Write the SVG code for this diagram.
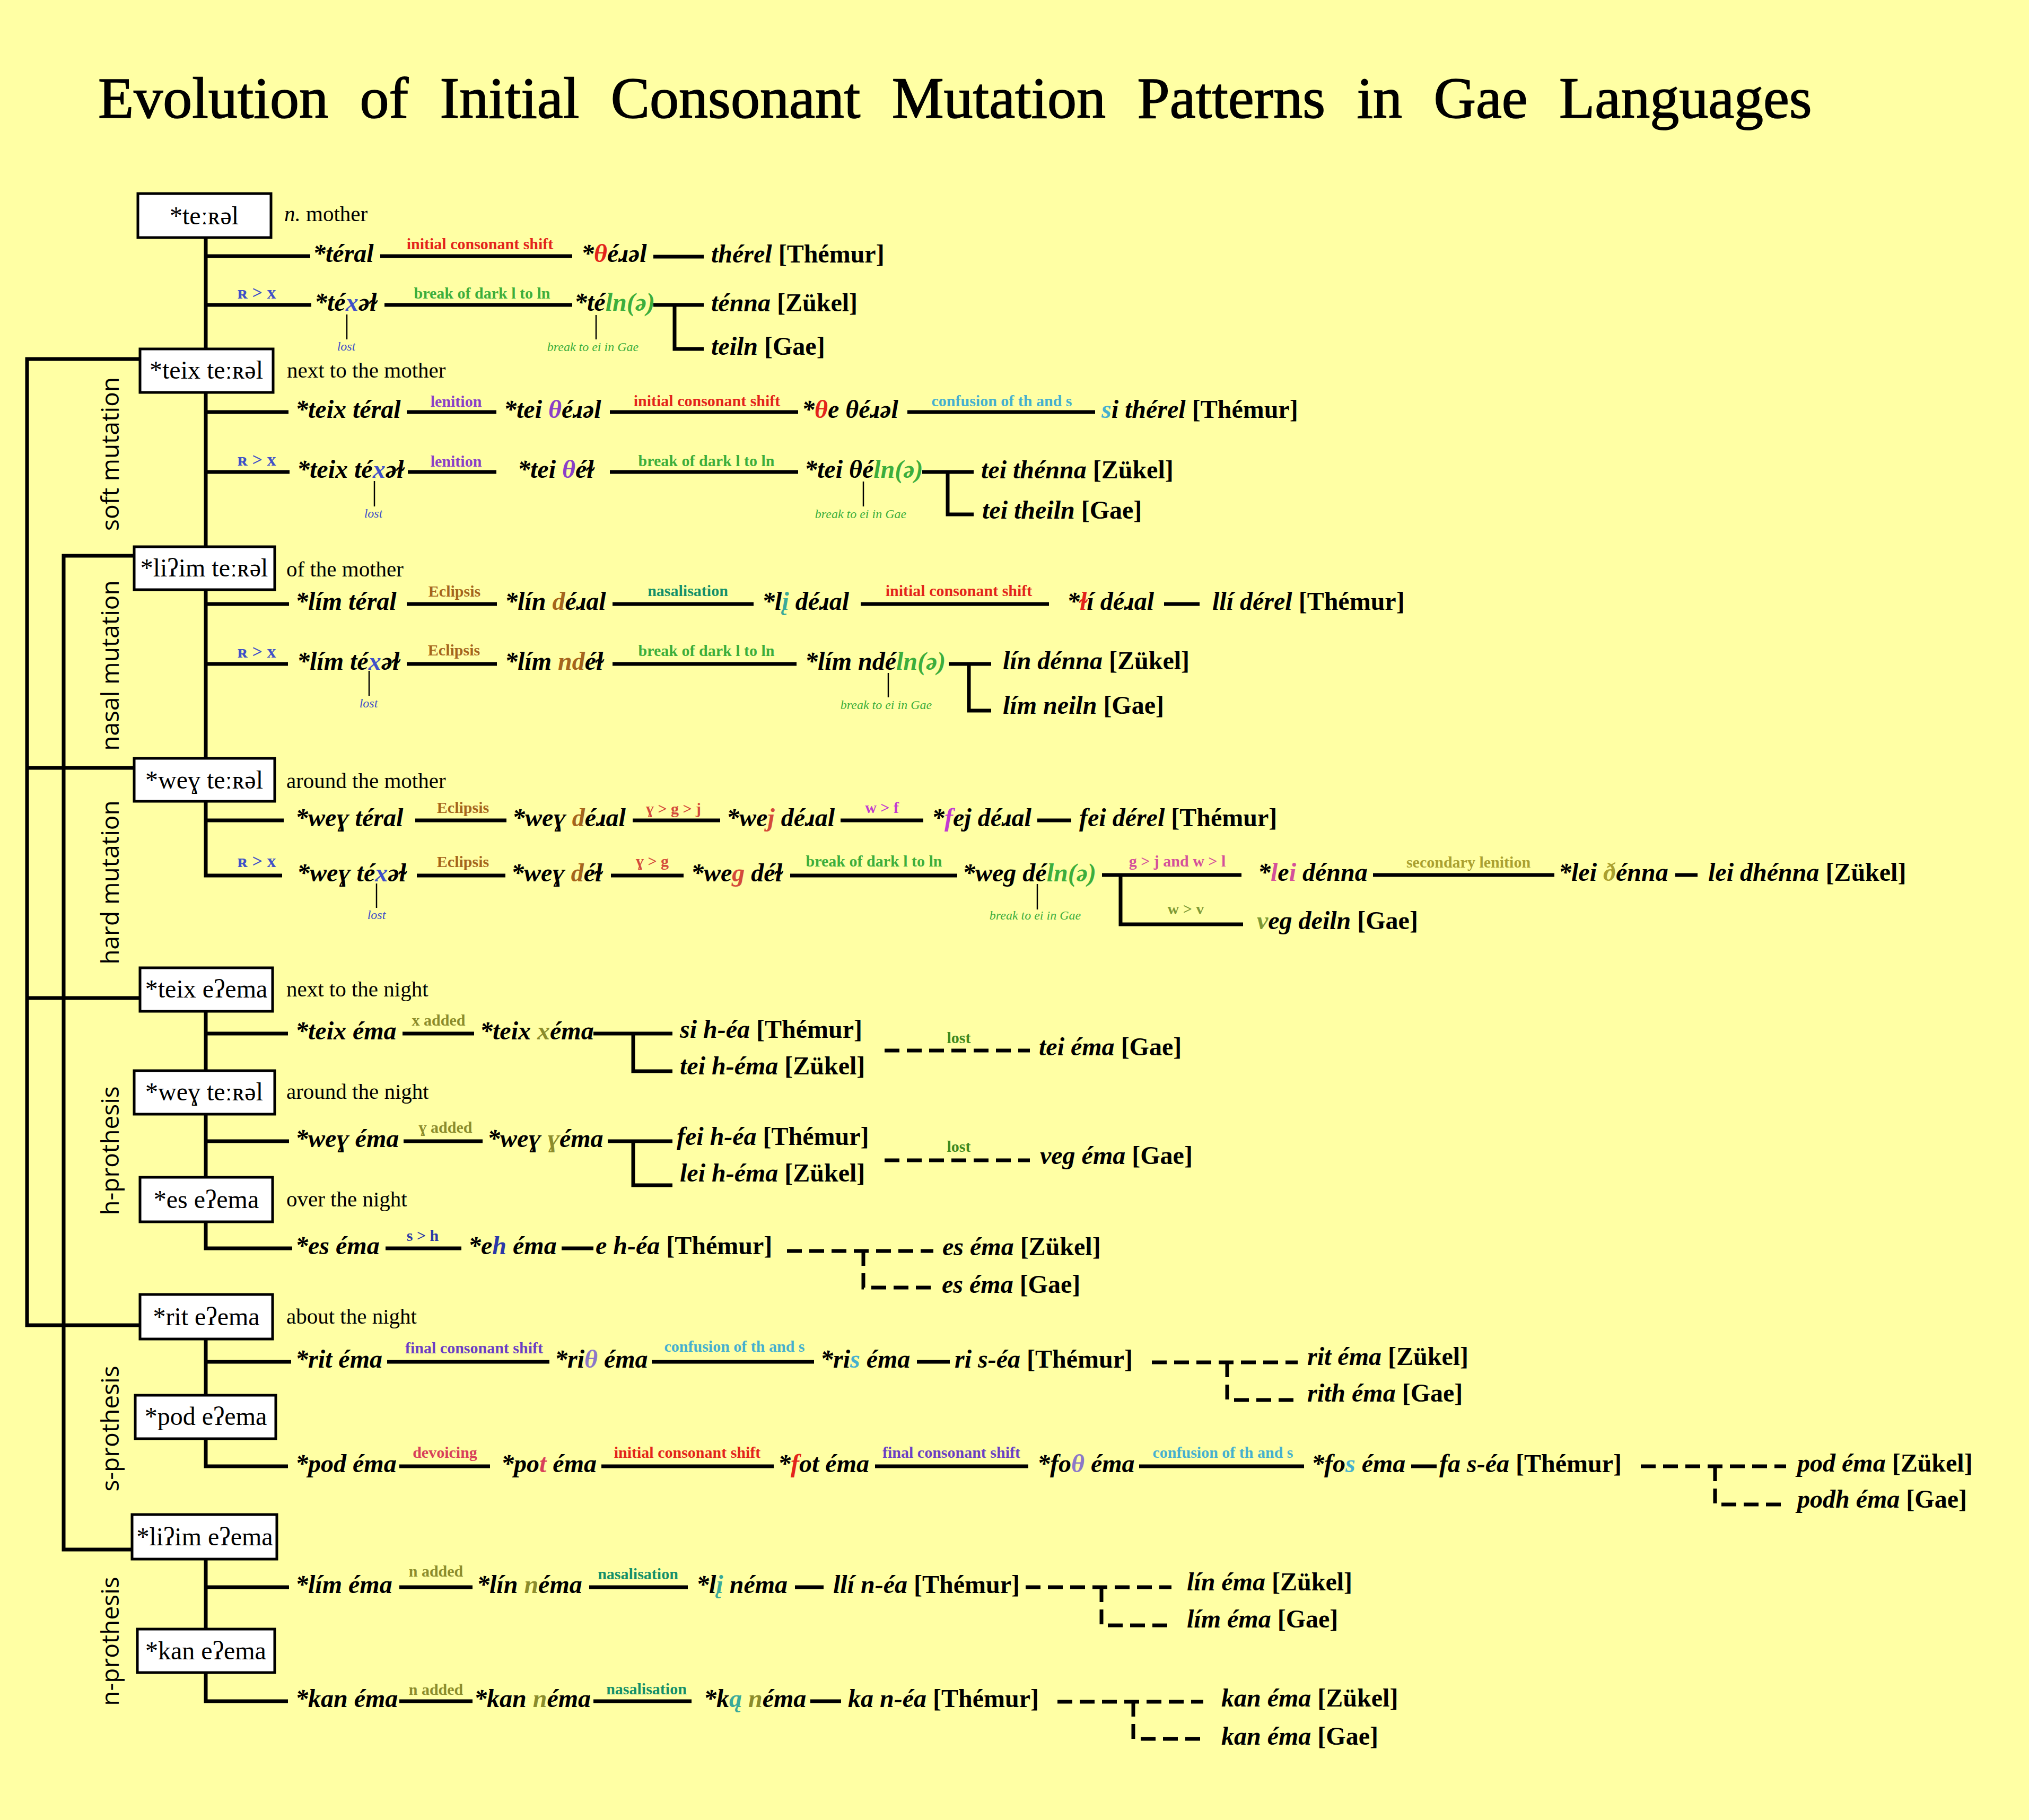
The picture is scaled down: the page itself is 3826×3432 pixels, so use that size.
<svg xmlns="http://www.w3.org/2000/svg" width="3826" height="3432" viewBox="0 0 3826 3432">
<style>
.w{font-family:"Liberation Serif","Times New Roman",serif;font-weight:bold;font-style:italic;font-size:48px;fill:#000}
.g{font-style:normal}
.bx{font-family:"Liberation Serif","DejaVu Serif",serif;font-size:48px;text-anchor:middle;fill:#000}
.an{font-family:"Liberation Serif",serif;font-size:41px;fill:#000}
.lb{font-family:"Liberation Serif",serif;font-weight:bold;font-size:30px;text-anchor:middle}
.rx{font-size:34px}
.sm{font-family:"Liberation Serif",serif;font-style:italic;font-size:24px;text-anchor:middle}
.cat{font-family:"Open Sans",sans-serif;font-size:46px;text-anchor:middle;fill:#000}
.c{fill:none;stroke:#000;stroke-width:7}
.d{fill:none;stroke:#000;stroke-width:7;stroke-dasharray:28 14}
.t{fill:none;stroke:#000;stroke-width:2.5}
.box{fill:#fff;stroke:#000;stroke-width:5}
.cr{fill:#e3241b}.cg{fill:#3cae3c}.cb{fill:#4050c8}.cp{fill:#8a3fc8}.cc{fill:#45b0cf}
.cbr{fill:#a5651c}.ct{fill:#14906a}.ci{fill:#3aaa9a}.co{fill:#8c8c2c}.cy{fill:#d44a3a}
.cm{fill:#c23bd0}.ck{fill:#d4509a}.cv{fill:#7f9a35}.cgd{fill:#aaa030}.cl{fill:#3f8a1f}
.cdb{fill:#2a38a8}.cf{fill:#6b3fc4}.cla{fill:#8c78c8}.cd{fill:#d8405a}
</style>
<rect x="0" y="0" width="3826" height="3432" fill="#ffffa4"/>
<text x="185" y="222" font-family="Liberation Serif, serif" font-size="110" word-spacing="32" fill="#000" stroke="#000" stroke-width="1.6">Evolution of Initial Consonant Mutation Patterns in Gae Languages</text>

<g id="categories">
<text class="cat" transform="translate(224,856) rotate(-90)">soft mutation</text>
<text class="cat" transform="translate(224,1255) rotate(-90)">nasal mutation</text>
<text class="cat" transform="translate(224,1664) rotate(-90)">hard mutation</text>
<text class="cat" transform="translate(224,2170) rotate(-90)">h-prothesis</text>
<text class="cat" transform="translate(224,2694) rotate(-90)">s-prothesis</text>
<text class="cat" transform="translate(224,3095) rotate(-90)">n-prothesis</text>
</g>

<g id="connectors">
<path class="c" d="M264,677 H51 V2499 H264 M51,1448 H253 M51,1882 H264"/>
<path class="c" d="M253,1048 H120 V2922 H249"/>
<path class="c" d="M388,448 V658 M388,483 H585 M388,575 H587"/>
<path class="c" d="M388,740 V1031 M388,777 H544 M388,890 H546"/>
<path class="c" d="M388,1112 V1430 M388,1139 H545 M388,1252 H543"/>
<path class="c" d="M388,1511 V1651 H532 M388,1547 H535"/>
<path class="c" d="M388,1907 V2019 M388,1949 H543"/>
<path class="c" d="M388,2101 V2220 M388,2152 H545"/>
<path class="c" d="M388,2304 V2354 H551"/>
<path class="c" d="M388,2525 V2631 M388,2568 H549"/>
<path class="c" d="M388,2713 V2765 H543"/>
<path class="c" d="M388,2940 V3072 M388,2993 H545"/>
<path class="c" d="M388,3154 V3208 H543"/>
<path class="c" d="M717,483 H1079 M1232,484 H1327"/>
<path class="c" d="M725,575 H1079 M1232,575 H1327 M1272,575 V658 H1327"/>
<path class="t" d="M654,593 V640 M1124,594 V640"/>
<path class="c" d="M767,777 H936 M1150,777 H1505 M1711,777 H2065"/>
<path class="c" d="M769,890 H936 M1150,890 H1505 M1739,890 H1836 M1787,890 V970 H1836"/>
<path class="t" d="M706,907 V955 M1628,908 V955"/>
<path class="c" d="M767,1139 H937 M1155,1139 H1421 M1623,1139 H1978 M2195,1139 H2262"/>
<path class="c" d="M767,1252 H937 M1155,1252 H1502 M1789,1252 H1869 M1827,1252 V1340 H1869"/>
<path class="t" d="M696,1265 V1312 M1675,1269 V1315"/>
<path class="c" d="M783,1547 H955 M1193,1547 H1358 M1585,1547 H1741 M1956,1547 H2020"/>
<path class="c" d="M786,1651 H953 M1152,1651 H1289 M1490,1651 H1805 M2078,1650 H2341 M2113,1650 V1743 H2344 M2589,1650 H2931 M3159,1650 H3201"/>
<path class="t" d="M710,1666 V1712 M1956,1667 V1715"/>
<path class="c" d="M759,1949 H894 M1119,1949 H1268 M1194,1949 V2020 H1268"/>
<path class="d" d="M1668,1981 H1942"/>
<path class="c" d="M761,2152 H910 M1146,2152 H1268 M1194,2152 V2235 H1268"/>
<path class="d" d="M1668,2188 H1942"/>
<path class="c" d="M727,2354 H870 M1059,2354 H1119"/>
<path class="d" d="M1484,2359 H1760 M1628,2359 V2428 H1760"/>
<path class="c" d="M730,2568 H1036 M1229,2568 H1535 M1729,2568 H1791"/>
<path class="d" d="M2172,2569 H2447 M2314,2569 V2640 H2447"/>
<path class="c" d="M753,2765 H924 M1134,2765 H1459 M1650,2765 H1939 M2148,2765 H2459 M2661,2765 H2709"/>
<path class="d" d="M3094,2765 H3368 M3234,2765 V2837 H3368"/>
<path class="c" d="M753,2993 H891 M1111,2993 H1297 M1499,2993 H1553"/>
<path class="d" d="M1934,2993 H2209 M2077,2993 V3065 H2209"/>
<path class="c" d="M753,3208 H891 M1119,3208 H1304 M1528,3208 H1586"/>
<path class="d" d="M1994,3209 H2269 M2137,3209 V3279 H2269"/>
</g>

<g id="labels">
<text class="lb cr" x="905" y="470">initial consonant shift</text>
<text class="lb rx cb" x="484" y="563">ʀ &gt; x</text>
<text class="lb cg" x="909" y="563">break of dark l to ln</text>
<text class="sm cb" x="653" y="661">lost</text>
<text class="sm cg" x="1118" y="662">break to ei in Gae</text>
<text class="lb cp" x="860" y="767">lenition</text>
<text class="lb cr" x="1333" y="766">initial consonant shift</text>
<text class="lb cc" x="1889" y="766">confusion of th and s</text>
<text class="lb rx cb" x="484" y="878">ʀ &gt; x</text>
<text class="lb cp" x="860" y="880">lenition</text>
<text class="lb cg" x="1332" y="879">break of dark l to ln</text>
<text class="sm cb" x="704" y="976">lost</text>
<text class="sm cg" x="1623" y="977">break to ei in Gae</text>
<text class="lb cbr" x="857" y="1125">Eclipsis</text>
<text class="lb ct" x="1297" y="1124">nasalisation</text>
<text class="lb cr" x="1808" y="1124">initial consonant shift</text>
<text class="lb rx cb" x="484" y="1240">ʀ &gt; x</text>
<text class="lb cbr" x="856" y="1236">Eclipsis</text>
<text class="lb cg" x="1332" y="1237">break of dark l to ln</text>
<text class="sm cb" x="695" y="1334">lost</text>
<text class="sm cg" x="1671" y="1337">break to ei in Gae</text>
<text class="lb cbr" x="873" y="1533">Eclipsis</text>
<text class="lb cy" x="1270" y="1535">ɣ &gt; g &gt; j</text>
<text class="lb cm" x="1663" y="1533">w &gt; f</text>
<text class="lb rx cb" x="484" y="1635">ʀ &gt; x</text>
<text class="lb cbr" x="873" y="1635">Eclipsis</text>
<text class="lb cy" x="1230" y="1634">ɣ &gt; g</text>
<text class="lb cg" x="1648" y="1634">break of dark l to ln</text>
<text class="sm cb" x="710" y="1733">lost</text>
<text class="sm cg" x="1952" y="1734">break to ei in Gae</text>
<text class="lb ck" x="2220" y="1634">g &gt; j and w &gt; l</text>
<text class="lb cv" x="2236" y="1724">w &gt; v</text>
<text class="lb cgd" x="2769" y="1636">secondary lenition</text>
<text class="lb co" x="827" y="1934">x added</text>
<text class="lb cl" x="1808" y="1967" font-weight="normal">lost</text>
<text class="lb co" x="840" y="2136">ɣ added</text>
<text class="lb cl" x="1808" y="2172" font-weight="normal">lost</text>
<text class="lb cdb" x="797" y="2340">s &gt; h</text>
<text class="lb cf" x="894" y="2552">final consonant shift</text>
<text class="lb cc" x="1385" y="2549">confusion of th and s</text>
<text class="lb cd" x="839" y="2749">devoicing</text>
<text class="lb cr" x="1296" y="2749">initial consonant shift</text>
<text class="lb cf" x="1794" y="2749">final consonant shift</text>
<text class="lb cc" x="2306" y="2749">confusion of th and s</text>
<text class="lb co" x="822" y="2973">n added</text>
<text class="lb ct" x="1203" y="2978">nasalisation</text>
<text class="lb co" x="822" y="3196">n added</text>
<text class="lb ct" x="1219" y="3195">nasalisation</text>
</g>

<g id="node-teral">
<rect class="box" x="260" y="365" width="251" height="83"/>
<text class="bx" x="385" y="423">*teːʀəl</text>
<text class="an" x="536" y="417"><tspan font-style="italic">n.</tspan> mother</text>
</g>
<g id="node-teix-teral">
<rect class="box" x="264" y="658" width="251" height="82"/>
<text class="bx" x="389" y="714">*teix teːʀəl</text>
<text class="an" x="541" y="712">next to the mother</text>
</g>
<g id="node-liim-teral">
<rect class="box" x="253" y="1031" width="265" height="81"/>
<text class="bx" x="385" y="1087">*liʔim teːʀəl</text>
<text class="an" x="540" y="1087">of the mother</text>
</g>
<g id="node-wey-teral">
<rect class="box" x="253" y="1430" width="265" height="81"/>
<text class="bx" x="385" y="1487">*weɣ teːʀəl</text>
<text class="an" x="540" y="1486">around the mother</text>
</g>
<g id="node-teix-eema">
<rect class="box" x="264" y="1825" width="250" height="82"/>
<text class="bx" x="389" y="1881">*teix eʔema</text>
<text class="an" x="540" y="1879">next to the night</text>
</g>
<g id="node-wey-eema">
<rect class="box" x="253" y="2019" width="265" height="82"/>
<text class="bx" x="385" y="2075">*weɣ teːʀəl</text>
<text class="an" x="540" y="2072">around the night</text>
</g>
<g id="node-es-eema">
<rect class="box" x="264" y="2220" width="250" height="84"/>
<text class="bx" x="389" y="2278">*es eʔema</text>
<text class="an" x="540" y="2275">over the night</text>
</g>
<g id="node-rit-eema">
<rect class="box" x="264" y="2441" width="250" height="84"/>
<text class="bx" x="389" y="2499">*rit eʔema</text>
<text class="an" x="540" y="2496">about the night</text>
</g>
<g id="node-pod-eema">
<rect class="box" x="255" y="2631" width="265" height="82"/>
<text class="bx" x="388" y="2687">*pod eʔema</text>
</g>
<g id="node-liim-eema">
<rect class="box" x="249" y="2856" width="273" height="84"/>
<text class="bx" x="386" y="2914">*liʔim eʔema</text>
</g>
<g id="node-kan-eema">
<rect class="box" x="259" y="3072" width="259" height="82"/>
<text class="bx" x="388" y="3129">*kan eʔema</text>
</g>

<g id="row-A1">
<text class="w" x="590" y="494">*téral</text>
<text class="w" x="1096" y="494">*<tspan class="cr">θ</tspan>éɹəl</text>
<text class="w" x="1341" y="495">thérel <tspan class="g">[Thémur]</tspan></text>
</g>
<g id="row-A2">
<text class="w" x="593" y="586">*té<tspan class="cb">x</tspan>əɫ</text>
<text class="w" x="1083" y="586">*té<tspan class="cg">ln(ə)</tspan></text>
<text class="w" x="1341" y="587">ténna <tspan class="g">[Zükel]</tspan></text>
<text class="w" x="1341" y="669">teiln <tspan class="g">[Gae]</tspan></text>
</g>
<g id="row-B1">
<text class="w" x="557" y="788">*teix téral</text>
<text class="w" x="950" y="788">*tei <tspan class="cp">θ</tspan>éɹəl</text>
<text class="w" x="1512" y="788">*<tspan class="cr">θ</tspan>e θéɹəl</text>
<text class="w" x="2077" y="788"><tspan class="cc">s</tspan>i thérel <tspan class="g">[Thémur]</tspan></text>
</g>
<g id="row-B2">
<text class="w" x="560" y="901">*teix té<tspan class="cb">x</tspan>əɫ</text>
<text class="w" x="976" y="901">*tei <tspan class="cp">θ</tspan>éɫ</text>
<text class="w" x="1517" y="901">*tei θé<tspan class="cg">ln(ə)</tspan></text>
<text class="w" x="1850" y="902">tei thénna <tspan class="g">[Zükel]</tspan></text>
<text class="w" x="1852" y="978">tei theiln <tspan class="g">[Gae]</tspan></text>
</g>
<g id="row-C1">
<text class="w" x="557" y="1150">*lím téral</text>
<text class="w" x="952" y="1150">*lín <tspan class="cbr">d</tspan>éɹal</text>
<text class="w" x="1437" y="1150">*l<tspan class="ci">į</tspan> déɹal</text>
<text class="w" x="2012" y="1150">*<tspan class="cr">ɫ</tspan>í déɹal</text>
<text class="w" x="2286" y="1150">llí dérel <tspan class="g">[Thémur]</tspan></text>
</g>
<g id="row-C2">
<text class="w" x="560" y="1263">*lím té<tspan class="cb">x</tspan>əɫ</text>
<text class="w" x="952" y="1263">*lím <tspan class="cbr">nd</tspan>éɫ</text>
<text class="w" x="1518" y="1263">*lím ndé<tspan class="cg">ln(ə)</tspan></text>
<text class="w" x="1891" y="1262">lín dénna <tspan class="g">[Zükel]</tspan></text>
<text class="w" x="1891" y="1346">lím neiln <tspan class="g">[Gae]</tspan></text>
</g>
<g id="row-D1">
<text class="w" x="557" y="1558">*weɣ téral</text>
<text class="w" x="966" y="1558">*weɣ <tspan class="cbr">d</tspan>éɹal</text>
<text class="w" x="1370" y="1558">*we<tspan class="cy">j</tspan> déɹal</text>
<text class="w" x="1757" y="1558">*<tspan class="cm">f</tspan>ej déɹal</text>
<text class="w" x="2035" y="1558">fei dérel <tspan class="g">[Thémur]</tspan></text>
</g>
<g id="row-D2">
<text class="w" x="560" y="1662">*weɣ té<tspan class="cb">x</tspan>əɫ</text>
<text class="w" x="964" y="1662">*weɣ <tspan class="cbr">d</tspan>éɫ</text>
<text class="w" x="1303" y="1662">*we<tspan class="cy">g</tspan> déɫ</text>
<text class="w" x="1815" y="1662">*weg dé<tspan class="cg">ln(ə)</tspan></text>
<text class="w" x="2372" y="1661">*<tspan class="ck">l</tspan>e<tspan class="ck">i</tspan> dénna</text>
<text class="w" x="2939" y="1661">*lei <tspan class="cgd">ð</tspan>énna</text>
<text class="w" x="3221" y="1661">lei dhénna <tspan class="g">[Zükel]</tspan></text>
<text class="w" x="2370" y="1752"><tspan class="cv">v</tspan>eg deiln <tspan class="g">[Gae]</tspan></text>
</g>
<g id="row-E1">
<text class="w" x="557" y="1960">*teix éma</text>
<text class="w" x="905" y="1960">*teix <tspan class="co">x</tspan>éma</text>
<text class="w" x="1282" y="1957">si h-éa <tspan class="g">[Thémur]</tspan></text>
<text class="w" x="1282" y="2026">tei h-éma <tspan class="g">[Zükel]</tspan></text>
<text class="w" x="1959" y="1990">tei éma <tspan class="g">[Gae]</tspan></text>
</g>
<g id="row-F1">
<text class="w" x="557" y="2163">*weɣ éma</text>
<text class="w" x="919" y="2163">*weɣ <tspan class="co">ɣ</tspan>éma</text>
<text class="w" x="1276" y="2159">fei h-éa <tspan class="g">[Thémur]</tspan></text>
<text class="w" x="1282" y="2228">lei h-éma <tspan class="g">[Zükel]</tspan></text>
<text class="w" x="1961" y="2195">veg éma <tspan class="g">[Gae]</tspan></text>
</g>
<g id="row-G1">
<text class="w" x="557" y="2365">*es éma</text>
<text class="w" x="883" y="2365">*e<tspan class="cdb">h</tspan> éma</text>
<text class="w" x="1123" y="2365">e h-éa <tspan class="g">[Thémur]</tspan></text>
<text class="w" x="1777" y="2367">es éma <tspan class="g">[Zükel]</tspan></text>
<text class="w" x="1776" y="2438">es éma <tspan class="g">[Gae]</tspan></text>
</g>
<g id="row-H1">
<text class="w" x="557" y="2579">*rit éma</text>
<text class="w" x="1046" y="2579">*ri<tspan class="cla">θ</tspan> éma</text>
<text class="w" x="1547" y="2579">*ri<tspan class="cc">s</tspan> éma</text>
<text class="w" x="1800" y="2579">ri s-éa <tspan class="g">[Thémur]</tspan></text>
<text class="w" x="2465" y="2574">rit éma <tspan class="g">[Zükel]</tspan></text>
<text class="w" x="2465" y="2643">rith éma <tspan class="g">[Gae]</tspan></text>
</g>
<g id="row-I1">
<text class="w" x="557" y="2776">*pod éma</text>
<text class="w" x="945" y="2776">*po<tspan class="cd">t</tspan> éma</text>
<text class="w" x="1467" y="2776">*<tspan class="cr">f</tspan>ot éma</text>
<text class="w" x="1956" y="2776">*fo<tspan class="cla">θ</tspan> éma</text>
<text class="w" x="2473" y="2776">*fo<tspan class="cc">s</tspan> éma</text>
<text class="w" x="2714" y="2776">fa s-éa <tspan class="g">[Thémur]</tspan></text>
<text class="w" x="3389" y="2775">pod éma <tspan class="g">[Zükel]</tspan></text>
<text class="w" x="3389" y="2843">podh éma <tspan class="g">[Gae]</tspan></text>
</g>
<g id="row-J1">
<text class="w" x="557" y="3004">*lím éma</text>
<text class="w" x="899" y="3004">*lín <tspan class="co">n</tspan>éma</text>
<text class="w" x="1313" y="3004">*l<tspan class="ci">į</tspan> néma</text>
<text class="w" x="1571" y="3004">llí n-éa <tspan class="g">[Thémur]</tspan></text>
<text class="w" x="2238" y="2999">lín éma <tspan class="g">[Zükel]</tspan></text>
<text class="w" x="2238" y="3069">lím éma <tspan class="g">[Gae]</tspan></text>
</g>
<g id="row-K1">
<text class="w" x="557" y="3219">*kan éma</text>
<text class="w" x="894" y="3219">*kan <tspan class="co">n</tspan>éma</text>
<text class="w" x="1327" y="3219">*k<tspan class="ci">ą</tspan> <tspan class="co">n</tspan>éma</text>
<text class="w" x="1599" y="3219">ka n-éa <tspan class="g">[Thémur]</tspan></text>
<text class="w" x="2303" y="3218">kan éma <tspan class="g">[Zükel]</tspan></text>
<text class="w" x="2303" y="3290">kan éma <tspan class="g">[Gae]</tspan></text>
</g>
</svg>
